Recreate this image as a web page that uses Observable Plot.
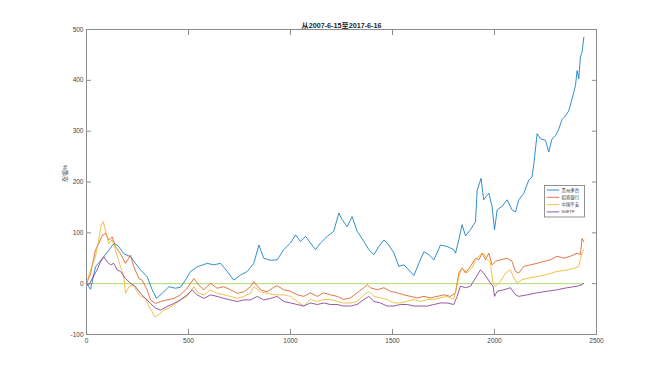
<!DOCTYPE html>
<html><head><meta charset="utf-8">
<script src="https://cdn.jsdelivr.net/npm/d3@7"></script>
<script src="https://cdn.jsdelivr.net/npm/@observablehq/plot@0.6"></script>
<style>
body{margin:0;background:#fff;}
#wrap{position:relative;width:660px;height:377px;}
#wrap svg.overlay{position:absolute;left:0;top:0;pointer-events:none;}
</style></head><body><div id="wrap"></div>
<script>
const seriesNames = ["贵州茅台","招商银行","中国平安","50ETF"];
const seriesColors = ["#0072BD","#D95319","#EDB120","#7E2F8E"];
const titleText = "从2007-6-15至2017-6-16";
const yLabel = "涨幅%";
const xTicks = [0,500,1000,1500,2000,2500];
const yTicks = [-100,0,100,200,300,400,500];

const maotaiDay = [0,20,44,85,134,150,159,183,216,240,265,297,322,343,371,404,436,461,485,510,542,592,624,657,690,722,755,788,820,845,869,902,935,967,1000,1025,1049,1074,1098,1123,1147,1180,1212,1237,1253,1278,1302,1327,1360,1384,1409,1433,1458,1482,1507,1531,1556,1580,1605,1629,1654,1678,1703,1735,1768,1800,1809,1825,1841,1858,1882,1907,1915,1934,1947,1972,1988,2000,2013,2037,2062,2086,2103,2119,2144,2168,2184,2193,2209,2225,2250,2266,2282,2299,2315,2331,2348,2364,2380,2397,2405,2413,2421,2429,2438];
const maotaiPct = [0,-11,33,53,79,76,72,59,53,40,27,14,-12,-29,-19,-6,-9,-7,7,24,33,40,37,40,24,7,17,24,40,76,50,46,47,67,80,96,83,93,80,67,80,93,103,139,126,112,132,103,83,67,57,73,86,76,60,34,37,27,16,40,63,57,47,76,73,67,60,86,116,94,106,122,184,207,165,178,152,106,145,152,165,145,141,165,178,204,210,236,295,285,282,259,285,291,304,323,330,340,363,390,419,403,446,455,485];

const zsyhDay = [0,20,44,60,77,93,109,126,142,167,191,216,232,257,273,297,314,338,363,395,428,461,493,526,551,575,608,640,673,706,739,771,804,820,853,886,918,935,967,1000,1033,1065,1098,1131,1163,1196,1229,1261,1294,1327,1360,1376,1392,1425,1458,1490,1523,1556,1588,1621,1654,1686,1719,1752,1784,1809,1825,1841,1858,1882,1907,1923,1939,1956,1972,1988,2005,2029,2062,2086,2103,2119,2144,2176,2209,2242,2274,2307,2340,2372,2405,2421,2429,2438];
const zsyhPct = [0,20,66,79,95,99,86,92,73,59,40,56,33,10,7,-12,-32,-39,-35,-32,-29,-22,-9,10,-3,-12,1,-9,-6,-12,-19,-16,-6,4,-12,-16,-7,-4,-12,-15,-22,-25,-18,-25,-18,-22,-25,-31,-28,-18,-8,-2,-8,-12,-8,-15,-18,-22,-25,-28,-25,-28,-25,-22,-25,-18,21,31,21,34,50,47,60,47,60,37,44,47,50,44,24,21,34,37,40,44,47,54,50,54,60,57,89,82];

const zgpaDay = [0,20,44,60,72,82,93,109,126,142,167,183,191,208,232,248,265,289,306,322,333,355,379,404,428,461,493,526,551,575,608,640,673,706,739,771,804,820,853,886,918,967,1000,1033,1065,1098,1131,1163,1196,1229,1261,1294,1327,1360,1384,1409,1441,1474,1507,1539,1572,1605,1637,1670,1703,1735,1768,1800,1825,1841,1866,1890,1907,1931,1947,1964,1980,1993,2005,2029,2054,2078,2095,2111,2135,2168,2209,2258,2307,2356,2397,2413,2421,2429,2438];
const zgpaPct = [0,27,53,86,115,122,105,79,86,66,33,14,-19,-6,-3,-16,-25,-29,-45,-55,-65,-61,-52,-48,-42,-32,-25,-6,-19,-22,-12,-19,-22,-25,-29,-25,-19,-6,-16,-19,-22,-22,-25,-35,-44,-31,-35,-31,-31,-35,-38,-38,-35,-22,-15,-25,-28,-31,-38,-38,-35,-31,-35,-31,-31,-28,-25,-31,14,31,21,31,47,57,60,47,41,1,-5,5,21,27,11,1,8,11,14,18,24,27,31,34,47,60,67];

const etfDay = [0,11,28,52,69,85,101,118,134,150,167,191,216,240,265,289,314,338,363,395,428,461,493,518,542,575,608,640,673,706,739,771,804,837,869,902,935,967,1000,1033,1065,1098,1131,1163,1196,1229,1261,1294,1327,1360,1384,1409,1441,1474,1507,1539,1572,1605,1637,1670,1703,1735,1768,1800,1817,1833,1858,1882,1907,1931,1947,1964,1980,1993,2000,2013,2045,2078,2103,2119,2160,2209,2258,2307,2356,2405,2429,2438];
const etfPct = [0,-3,10,27,43,53,43,37,40,27,24,10,1,-6,-19,-29,-39,-48,-52,-45,-39,-32,-22,-12,-22,-29,-22,-25,-29,-32,-35,-32,-32,-25,-32,-29,-25,-35,-38,-41,-44,-38,-41,-38,-41,-41,-44,-44,-41,-31,-25,-35,-38,-44,-44,-41,-41,-44,-44,-44,-41,-38,-38,-41,-25,-5,-8,-5,11,27,21,11,1,-5,-25,-15,-12,-8,-22,-25,-22,-18,-15,-12,-8,-5,-2,1];

const rows = [];
[[maotaiDay,maotaiPct],[zsyhDay,zsyhPct],[zgpaDay,zgpaPct],[etfDay,etfPct]].forEach(([d,v],i)=>{
  d.forEach((day,j)=>rows.push({series:seriesNames[i], day, pct:v[j]}));
});
const zeroLine = [{y:0, x1:d3.min(rows,r=>r.day), x2:d3.max(rows,r=>r.day)}];

const font = '"Liberation Sans","Noto Sans CJK SC",sans-serif';
const axisGray = "#8c8c8c";
const labelGray = "#444";
const plain = d => String(d);

const chart = Plot.plot({
  width:660, height:377,
  marginLeft:86, marginRight:64, marginTop:29, marginBottom:43,
  style:{fontFamily:font, background:"#fff", overflow:"visible"},
  x:{domain:[0,2500]},
  y:{domain:[-100,500]},
  color:{domain:seriesNames, range:seriesColors},
  marks:[
    Plot.ruleY(zeroLine, {y:"y", x1:"x1", x2:"x2", stroke:"#addb72", strokeWidth:1}),
    Plot.line(rows, {x:"day", y:"pct", z:"series", stroke:"series", strokeWidth:0.8}),
    Plot.frame({stroke:axisGray, strokeWidth:1}),
    Plot.axisX(xTicks, {anchor:"bottom", tickSize:0, tickPadding:4, fontSize:6.5, color:labelGray, label:null, tickFormat:plain}),
    Plot.axisX(xTicks, {anchor:"bottom", tickSize:-5, tickFormat:()=>"", color:axisGray, label:null}),
    Plot.axisX(xTicks, {anchor:"top", tickSize:-5, tickFormat:()=>"", color:axisGray, label:null}),
    Plot.axisY(yTicks, {anchor:"left", tickSize:0, tickPadding:3, fontSize:6.5, color:labelGray, label:null, tickFormat:plain}),
    Plot.axisY(yTicks, {anchor:"left", tickSize:-5, tickFormat:()=>"", color:axisGray, label:null}),
    Plot.axisY(yTicks, {anchor:"right", tickSize:-5, tickFormat:()=>"", color:axisGray, label:null}),
    Plot.text([titleText], {text:d=>d, frameAnchor:"top", dy:-7, fontWeight:"bold", fontSize:7.2, fill:"#222"}),
    Plot.text([yLabel], {text:d=>d, frameAnchor:"left", dx:-21, rotate:-90, fontSize:6, fill:labelGray})
  ]
});
const wrap = document.getElementById("wrap");
wrap.appendChild(chart);

// legend overlay
const ov = d3.select(wrap).append("svg").attr("class","overlay")
  .attr("width",660).attr("height",377).style("font-family",font);
ov.append("rect").attr("x",544.5).attr("y",185.5).attr("width",40).attr("height",31.5)
  .attr("fill","#fff").attr("stroke","#777").attr("stroke-width",0.8);
seriesNames.forEach((name,i)=>{
  const yy = 190 + i*7.3;
  ov.append("line").attr("x1",546.7).attr("x2",559.3).attr("y1",yy).attr("y2",yy)
    .attr("stroke",seriesColors[i]).attr("stroke-width",0.8);
  ov.append("text").attr("x",561.5).attr("y",yy).attr("dy","0.35em")
    .attr("font-size",4.4).attr("fill","#333").text(name);
});
</script></body></html>
